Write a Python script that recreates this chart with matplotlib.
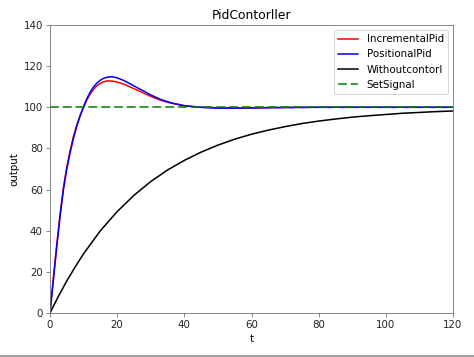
import matplotlib

matplotlib.use("Agg")
import matplotlib.pyplot as plt
from matplotlib.lines import Line2D

# ── data ─────────────────────────────────────────────────────────────
t_pid = [0, 1, 2, 3, 4, 5, 6, 7, 8, 9, 10, 11, 12, 13, 14, 15, 16, 17, 18,
         19, 20, 22, 24, 26, 28, 30, 33, 36, 40, 45, 50, 55, 60, 70, 80, 90,
         100, 110, 120]
incremental_pid = [0, 17, 33, 48, 61, 71, 79, 86, 91.5, 96, 100, 103.6,
                   106.5, 108.8, 110.5, 111.7, 112.4, 112.8, 112.8, 112.6,
                   112.3, 111.2, 109.8, 108.3, 106.8, 105.3, 103.4, 102,
                   100.7, 100, 99.7, 99.6, 99.7, 99.9, 100, 100, 100, 100,
                   100]
positional_pid = [0, 16, 32, 47, 60, 70, 78, 85, 91, 96, 100.5, 104.3, 107.5,
                  110, 111.8, 113.2, 114.1, 114.6, 114.8, 114.7, 114.3, 113,
                  111.3, 109.5, 107.8, 106, 103.8, 102.2, 100.8, 100, 99.6,
                  99.6, 99.7, 99.9, 100, 100, 100, 100, 100]

t_open = [0, 2.5, 5, 7.5, 10, 15, 20, 25, 30, 35, 40, 45, 50, 55, 60, 65, 70,
          75, 80, 85, 90, 95, 100, 105, 110, 115, 120]
without_control = [0, 8.1, 15.6, 22.4, 28.8, 40, 49.3, 57.2, 63.9, 69.5,
                   74.2, 78.2, 81.6, 84.5, 86.9, 88.9, 90.6, 92.1, 93.3, 94.3,
                   95.2, 95.9, 96.5, 97.1, 97.5, 97.9, 98.2]

t_set = [0, 120]
set_signal = [100, 100]

fig = plt.figure(figsize=(474 / 74, 357 / 74), dpi=74)
ax = fig.add_axes([50 / 474, 1 - 313 / 357, 403 / 474, 288 / 357])

ax.plot(t_pid, incremental_pid, color="red", label="IncrementalPid")
ax.plot(t_pid, positional_pid, color="blue", label="PositionalPid")
ax.plot(t_open, without_control, color="black", label="Withoutcontorl")
ax.plot(t_set, set_signal, "--", color="green", dashes=(5.8, 2.5),
        label="SetSignal")

ax.set_xlim(0, 120)
ax.set_ylim(0, 140)
ax.set_xlabel("t")
ax.set_ylabel("output")
ax.set_title("PidContorller")
ax.legend(loc="upper right")

for sp in ax.spines.values():
    sp.set_color("#707070")
ax.tick_params(colors="#707070", labelcolor="#222222")

# thin grey border line at the bottom of the screenshot
fig.add_artist(Line2D([0, 1], [1.5 / 357, 1.5 / 357], transform=fig.transFigure,
                      color="#a0a0a0", lw=2))

fig.savefig("out.png", dpi=74)
